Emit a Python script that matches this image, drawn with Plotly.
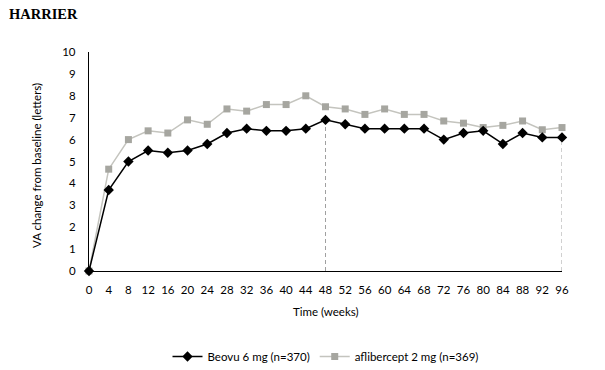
import plotly.graph_objects as go

weeks = [0, 4, 8, 12, 16, 20, 24, 28, 32, 36, 40, 44, 48, 52, 56, 60, 64, 68, 72, 76, 80, 84, 88, 92, 96]
beovu = [0, 3.7, 5.0, 5.5, 5.4, 5.5, 5.8, 6.3, 6.5, 6.4, 6.4, 6.5, 6.9, 6.7, 6.5, 6.5, 6.5, 6.5, 6.0, 6.3, 6.4, 5.8, 6.3, 6.1, 6.1]
aflibercept = [0, 4.65, 6.0, 6.4, 6.3, 6.9, 6.7, 7.4, 7.3, 7.6, 7.6, 8.0, 7.5, 7.4, 7.15, 7.4, 7.15, 7.15, 6.85, 6.75, 6.55, 6.65, 6.85, 6.45, 6.55]
drop_weeks = [48, 96]
x_ticks = list(range(0, 97, 4))
y_ticks = list(range(0, 11))

FONT = "Lato"
FS = 11.5
L, R, T, B = 89, 43, 52, 99
PW, PH = 605 - L - R, 370 - T - B

fig = go.Figure()

# dashed drop lines to the Beovu values
drop_vals = [beovu[weeks.index(w)] for w in drop_weeks]
for w, v in zip(drop_weeks, drop_vals):
    fig.add_trace(go.Scatter(x=[w, w], y=[0, v], mode="lines",
                             line=dict(color="#A0A0A0", width=1, dash="4px,3px"),
                             showlegend=False, hoverinfo="skip"))

fig.add_trace(go.Scatter(x=weeks, y=aflibercept, mode="lines+markers",
                         name="aflibercept 2 mg (n=369)",
                         line=dict(color="#C4C4BE", width=1.5),
                         marker=dict(symbol="square", size=7, color="#A6A6A0"),
                         cliponaxis=False))
fig.add_trace(go.Scatter(x=weeks, y=beovu, mode="lines+markers",
                         name="Beovu 6 mg (n=370)",
                         line=dict(color="#000000", width=1.5),
                         marker=dict(symbol="diamond", size=8, color="#000000"),
                         cliponaxis=False))

fig.update_layout(
    width=605, height=370,
    margin=dict(l=L, r=R, t=T, b=B, autoexpand=False),
    paper_bgcolor="white", plot_bgcolor="white",
    font=dict(family=FONT, size=FS, color="#000000"),
    showlegend=True,
    legend=dict(orientation="h", x=0.5, xanchor="center", y=-(342 - (T + PH)) / PH, yanchor="top",
                traceorder="reversed", font=dict(family=FONT, size=FS),
                itemwidth=30),
    annotations=[
        dict(text="<b>HARRIER</b>", xref="paper", yref="paper",
             x=-(L - 7) / PW, y=1 + (T - 14) / PH, xanchor="left", yanchor="middle",
             showarrow=False,
             font=dict(family="Liberation Serif", size=14.5, color="#000000")),
        dict(text="Time (weeks)", xref="paper", yref="paper",
             x=0.5, y=-(311 - (T + PH)) / PH, xanchor="center", yanchor="middle",
             showarrow=False, font=dict(family=FONT, size=FS)),
        dict(text="VA change from baseline (letters)", xref="paper", yref="paper",
             x=-(L - 36) / PW, y=1 - (166 - T) / PH, xanchor="center", yanchor="middle",
             textangle=-90, showarrow=False, font=dict(family=FONT, size=FS)),
    ],
)
fig.update_xaxes(range=[0, 96], tickvals=x_ticks, ticktext=[str(t) for t in x_ticks],
                 showgrid=False, zeroline=False, showline=True, linecolor="#000000",
                 linewidth=1.3, ticks="", ticklabelstandoff=8, automargin=False)
fig.update_yaxes(range=[0, 10], tickvals=y_ticks, ticktext=[str(t) for t in y_ticks],
                 showgrid=False, zeroline=False, showline=True, linecolor="#000000",
                 linewidth=1.3, ticks="", ticklabelstandoff=10, automargin=False)

fig.write_html("out.html")
